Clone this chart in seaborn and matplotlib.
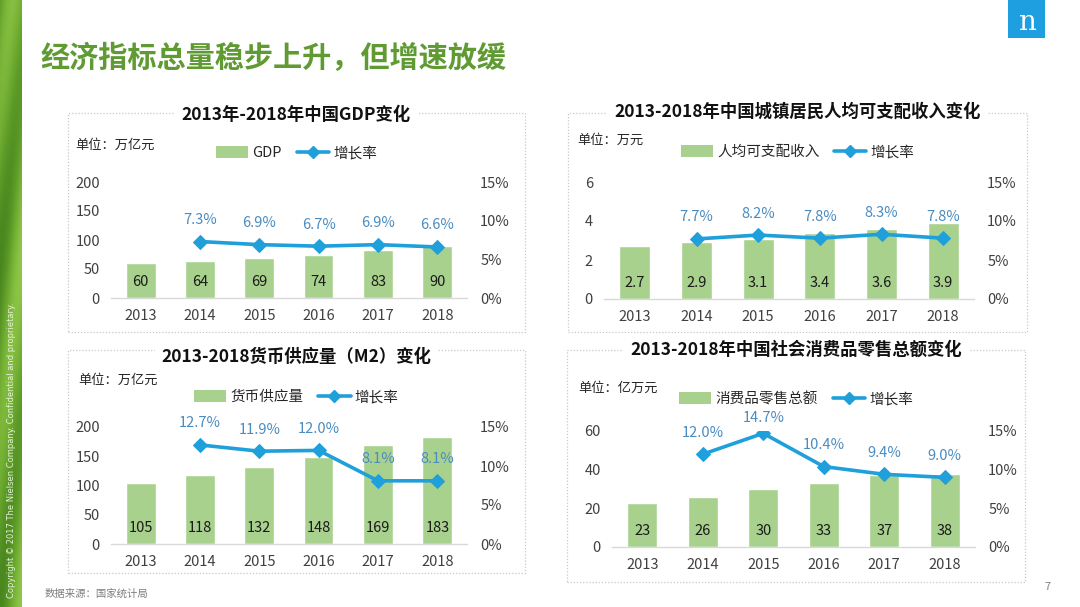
import numpy as np
import pandas as pd
import matplotlib
matplotlib.use("Agg")
import matplotlib.pyplot as plt
import seaborn as sns
from matplotlib.patches import Rectangle, Patch
from matplotlib.lines import Line2D
from matplotlib.colors import LinearSegmentedColormap

# ---------------- data ----------------
years = ["2013", "2014", "2015", "2016", "2017", "2018"]

gdp_values = [60, 64, 69, 74, 83, 90]
gdp_rates = [np.nan, 7.3, 6.9, 6.7, 6.9, 6.6]

income_values = [2.7, 2.9, 3.1, 3.4, 3.6, 3.9]
income_rates = [np.nan, 7.7, 8.2, 7.8, 8.3, 7.8]

m2_values = [105, 118, 132, 148, 169, 183]
m2_rates = [np.nan, 12.7, 11.9, 12.0, 8.1, 8.1]

retail_values = [23, 26, 30, 33, 37, 38]
retail_rates = [np.nan, 12.0, 14.7, 10.4, 9.4, 9.0]

main_title = "经济指标总量稳步上升，但增速放缓"
titles = ["2013年-2018年中国GDP变化",
          "2013-2018年中国城镇居民人均可支配收入变化",
          "2013-2018货币供应量（M2）变化",
          "2013-2018年中国社会消费品零售总额变化"]
units = ["单位：万亿元", "单位：万元", "单位：万亿元", "单位：亿万元"]
bar_names = ["GDP", "人均可支配收入", "货币供应量", "消费品零售总额"]
rate_name = "增长率"
source_text = "数据来源：国家统计局"
copyright_text = "Copyright © 2017 The Nielsen Company. Confidential and proprietary."

# ---------------- style ----------------
sns.set_theme(style="white")
plt.rcParams["font.family"] = ["Noto Sans CJK SC", "DejaVu Sans"]

BAR = "#a9d18e"
LINE = "#1fa0db"
PCT = "#4a8bc0"
TXT = "#404040"

W, H = 1080, 607
fig = plt.figure(figsize=(W / 100, H / 100), dpi=100)
fig.patch.set_facecolor("white")


def fx(px):
    return px / W


def fy(py):
    return 1 - py / H


def panel(values, rates, ymax, yticks, axbox, border, title, title_y, unit, unit_xy,
          bar_name, legend_y, decimals, label_offsets=None):
    x0, x1, ytop, ybot = axbox
    ax = fig.add_axes([fx(x0), fy(ybot), fx(x1 - x0), (ybot - ytop) / H])
    df = pd.DataFrame({"year": years, "value": values})
    sns.barplot(data=df, x="year", y="value", color=BAR, saturation=1, width=0.5, ax=ax)
    ax.set_xlim(-0.5, 5.5)
    ax.set_ylim(0, ymax)
    ax.set_yticks(yticks)
    ax.set_xlabel("")
    ax.set_ylabel("")
    for s in ["top", "right", "left"]:
        ax.spines[s].set_visible(False)
    ax.spines["bottom"].set_color("#d9d9d9")
    ax.spines["bottom"].set_linewidth(1.0)
    ax.tick_params(axis="both", length=0, labelsize=10.5, colors=TXT)
    ax.tick_params(axis="x", pad=8)
    ax.tick_params(axis="y", pad=8)
    ax.grid(False)
    # value labels inside bars
    for p, v in zip(ax.patches, values):
        ax.annotate(f"{v:.{decimals}f}", xy=(p.get_x() + p.get_width() / 2, 0),
                    xytext=(0, 11.5), textcoords="offset points",
                    ha="center", va="center", fontsize=10.5, color="#1a1a1a")

    ax2 = ax.twinx()
    rdf = pd.DataFrame({"pos": np.arange(len(years)), "rate": rates}).dropna()
    sns.lineplot(data=rdf, x="pos", y="rate", ax=ax2, color=LINE, linewidth=2.6,
                 marker="D", markersize=7, markeredgecolor=LINE, markerfacecolor=LINE)
    ax2.set_xlim(-0.5, 5.5)
    ax2.set_ylim(0, 15)
    ax2.set_yticks([0, 5, 10, 15])
    ax2.set_yticklabels([f"{t}%" for t in [0, 5, 10, 15]])
    ax2.set_ylabel("")
    for s in ax2.spines.values():
        s.set_visible(False)
    ax2.tick_params(axis="y", length=0, labelsize=10.5, colors=TXT, pad=9.5)
    ax2.grid(False)
    for pos, r in zip(rdf["pos"], rdf["rate"]):
        off = 15.5
        if label_offsets and int(pos) in label_offsets:
            off = label_offsets[int(pos)]
        ax2.annotate(f"{r:.1f}%", xy=(pos, r), xytext=(0, off), textcoords="offset points",
                     ha="center", va="center", fontsize=10.5, color=PCT)

    # dotted border
    bx0, by0, bx1, by1 = border
    fig.add_artist(Rectangle((fx(bx0), fy(by1)), fx(bx1 - bx0), (by1 - by0) / H,
                             transform=fig.transFigure, fill=False, edgecolor="#c8c8c8",
                             linestyle=(0, (1, 1.5)), linewidth=0.9, zorder=1))
    cx = (bx0 + bx1) / 2
    fig.text(fx(cx), fy(title_y), title, ha="center", va="center", fontsize=12.5,
             fontweight="bold", color="#111111",
             bbox=dict(facecolor="white", edgecolor="none", pad=5), zorder=5)
    fig.text(fx(unit_xy[0]), fy(unit_xy[1]), unit, ha="left", va="center", fontsize=9.5,
             color="#262626")
    handles = [Patch(facecolor=BAR, edgecolor="none"),
               Line2D([0], [0], color=LINE, lw=2.6, marker="D", markersize=6)]
    fig.legend(handles, [bar_name, rate_name], loc="center",
               bbox_to_anchor=(fx(cx), fy(legend_y)), ncol=2, frameon=False,
               fontsize=10.5, handlelength=2.2, handletextpad=0.3, columnspacing=1.0,
               handleheight=0.8)
    return ax, ax2


panel(gdp_values, gdp_rates, 200, [0, 50, 100, 150, 200], (111, 467, 182, 298),
      (68, 113, 525, 332), titles[0], 115, units[0], (75, 145), bar_names[0], 153, 0)
panel(income_values, income_rates, 6, [0, 2, 4, 6], (604, 974, 182, 299),
      (568, 113, 1027, 332), titles[1], 112, units[1], (577, 140), bar_names[1], 152, 1)
panel(m2_values, m2_rates, 200, [0, 50, 100, 150, 200], (111, 467, 427, 544),
      (68, 350, 525, 573), titles[2], 357, units[2], (78, 380), bar_names[2], 397, 0)
panel(retail_values, retail_rates, 60, [0, 20, 40, 60], (612, 975, 431, 547),
      (567, 350, 1025, 582), titles[3], 350, units[3], (578, 388), bar_names[3], 399, 0,
      label_offsets={2: 11.0})

# main title
fig.text(fx(40), fy(58), main_title, ha="left", va="center", fontsize=21,
         fontweight="bold", color="#5f9b32")

# left green strip
sax = fig.add_axes([0, 0, fx(22), 1])
yy, xx = np.mgrid[0:200, 0:20]
pattern = 0.55 + 0.25 * np.sin(yy / 18.0 + xx / 6.0) + 0.2 * (xx / 20.0)
cmap = LinearSegmentedColormap.from_list("leaf", ["#3f7d1a", "#6aa82e", "#9bd04f"])
sax.imshow(pattern, aspect="auto", cmap=cmap, vmin=0.2, vmax=1.1)
sax.set_axis_off()
fig.text(fx(12), fy(598), copyright_text, rotation=90, ha="center", va="bottom",
         fontsize=6, color="#e6f2d8", family=["DejaVu Sans"])

# logo
fig.add_artist(Rectangle((fx(1008), fy(38)), fx(37), 38 / H, transform=fig.transFigure,
                         facecolor="#1e9fe0", edgecolor="none", zorder=2))
fig.text(fx(1027), fy(22), "n", ha="center", va="center", fontsize=20, color="white",
         family=["DejaVu Serif"], zorder=3)

# footer
fig.text(fx(45), fy(594), source_text, ha="left", va="center", fontsize=7.5, color="#7f7f7f")
fig.text(fx(1048), fy(587), "7", ha="center", va="center", fontsize=8, color="#7f7f7f")

fig.savefig("out.png", dpi=100, facecolor="white")
